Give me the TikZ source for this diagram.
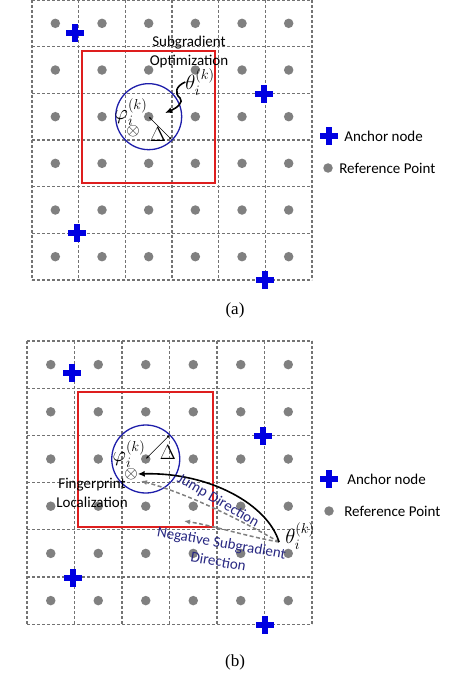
\documentclass[tikz,border=0pt]{standalone}
\usepackage{fontspec}
\setmainfont{Liberation Serif}
\newfontfamily\calibri{Carlito}
\usepackage{amsmath}
\usepackage{xcolor}
\usetikzlibrary{positioning}
\usetikzlibrary{calc}
\usetikzlibrary{arrows.meta}
\definecolor{anchorblue}{RGB}{0,0,225}
\definecolor{circblue}{RGB}{30,30,170}
\definecolor{boxred}{RGB}{222,30,30}
\definecolor{dirnavy}{RGB}{40,40,130}
\definecolor{dotgray}{RGB}{128,128,128}
\definecolor{linegray}{RGB}{115,115,115}
\tikzset{
	x=1pt, y=-1pt,
	every node/.style={outer sep=0pt},
	gridline/.style={linegray, dash pattern=on 3pt off 2pt, line width=1.3pt},
	refpoint/.style={circle, fill=dotgray, inner sep=0pt, minimum size=9.5pt},
	anchornode/.style={inner sep=0pt, minimum size=18pt,
		path picture={
			\fill[anchorblue] ($(path picture bounding box.center)+(-9pt,-3pt)$) rectangle ++(18pt,6pt);
			\fill[anchorblue] ($(path picture bounding box.center)+(-3pt,-9pt)$) rectangle ++(6pt,18pt);
		}},
	regionbox/.style={draw=boxred, line width=1.6pt},
	searchcirc/.style={circle, draw=circblue, line width=1.3pt, inner sep=0pt},
	lbl/.style={font=\fontsize{15}{19}\selectfont\calibri, align=center},
	dirlbl/.style={lbl, text=dirnavy},
	mathlbl/.style={font=\fontsize{20}{22}\selectfont, inner sep=0pt},
	otimeslbl/.style={font=\fontsize{19}{21}\selectfont, inner sep=0pt},
	radius/.style={{Latex[length=3pt]}-{Latex[length=3pt]}, line width=0.6pt},
	steparrow/.style={-{Latex[length=7pt,width=6pt]}, line width=1.6pt},
	gradarrow/.style={-{Latex[length=6pt,width=5pt]}, dotgray, dash pattern=on 4pt off 2.5pt, line width=1.5pt}
}

\begin{document}
\begin{tikzpicture}
	\useasboundingbox (0,0) rectangle (474,695);

	% Panel (a)
	\foreach \k in {0,...,6} {
		\draw[gridline] ({32+46.67*\k},0) -- ({32+46.67*\k},280);
		\draw[gridline] (32,{46.67*\k}) -- (312,{46.67*\k});
	}
	\foreach \i in {0,...,5}
		\foreach \j in {0,...,5}
			\node[refpoint] (a-\i-\j) at ({32+46.67*(\i+0.5)},{46.67*(\j+0.5)}) {};

	\draw[regionbox] (82,51) rectangle (215,183);
	\node[searchcirc, minimum size=66pt] (circA) at (a-2-2) {};

	\node[anchornode] (anc-a1) at (75,33) {};
	\node[anchornode] (anc-a2) at (264,94) {};
	\node[anchornode] (anc-a3) at (77,233) {};
	\node[anchornode] (anc-a4) at (265,280) {};

	\node[lbl] (subopt) at (189,52) {Subgradient\\Optimization};
	\node[mathlbl] (thA) at (200,82) {$\theta_i^{(k)}$};
	\node[mathlbl] (phiA) at (131,112) {$\varphi_i^{(k)}$};
	\node[otimeslbl] (otA) at (133,131) {$\otimes$};
	\node[mathlbl] (delA) at (158,134) {$\Delta$};
	\coordinate (tipA) at (165,113);

	\draw[steparrow] (thA.west) .. controls (176,86) and (174,93) .. (180,98)
		.. controls (184,102) and (177,108) .. (tipA);
	\draw[radius] (a-2-2.center) -- (circA.-45);

	% Legend (a)
	\node[anchornode] (leg-anc-a) at (329,136) {};
	\node[lbl, anchor=west] (leg-anc-a-t) at (341,136) {Anchor node};
	\node[refpoint] (leg-ref-a) at (328,168) {};
	\node[lbl, anchor=west] (leg-ref-a-t) at (336,168) {Reference Point};

	\node[font=\fontsize{17}{19}\selectfont] (capA) at (235,310) {(a)};

	% Panel (b)
	\foreach \k in {0,...,6} {
		\draw[gridline] ({27+47.5*\k},341) -- ({27+47.5*\k},624);
		\draw[gridline] (27,{341+47.2*\k}) -- (312,{341+47.2*\k});
	}
	\foreach \i in {0,...,5}
		\foreach \j in {0,...,5}
			\node[refpoint] (b-\i-\j) at ({27+47.5*(\i+0.5)},{341+47.2*(\j+0.5)}) {};

	\draw[regionbox] (78,392) rectangle (213,527);
	\node[searchcirc, minimum size=68pt] (circB) at (b-2-2) {};

	\node[anchornode] (anc-b1) at (72,373) {};
	\node[anchornode] (anc-b2) at (263,436) {};
	\node[anchornode] (anc-b3) at (73,578) {};
	\node[anchornode] (anc-b4) at (265,625) {};

	\node[mathlbl] (phiB) at (129,454) {$\varphi_i^{(k)}$};
	\node[otimeslbl] (otB) at (131,474) {$\otimes$};
	\node[mathlbl] (delB) at (168,452) {$\Delta$};
	\node[mathlbl] (thB) at (300,536) {$\theta_i^{(k)}$};
	\coordinate (startB) at (279,542);
	\coordinate (gradtipB) at (141,481);
	\coordinate (negtipB) at (184,521);

	\draw[radius] (b-2-2.center) -- (circB.45);
	\draw[gradarrow] (startB) .. controls (232,515) and (182,492) .. (gradtipB);
	\draw[gradarrow] (startB) .. controls (245,536) and (215,526) .. (negtipB);
	\draw[steparrow] (startB) .. controls (268,505) and (210,472) .. (otB.east);

	\node[lbl] (fploc) at (92,493) {Fingerprint\\Localization};
	\node[dirlbl, rotate=-30] (jumpdir) at (218,501) {Jump Direction};
	\node[dirlbl, rotate=-10] (negdir) at (220,552) {Negative Subgradient\\Direction};

	% Legend (b)
	\node[anchornode] (leg-anc-b) at (329,479) {};
	\node[lbl, anchor=west] (leg-anc-b-t) at (344,479) {Anchor node};
	\node[refpoint] (leg-ref-b) at (329,511) {};
	\node[lbl, anchor=west] (leg-ref-b-t) at (341,511) {Reference Point};

	\node[font=\fontsize{17}{19}\selectfont] (capB) at (235,662) {(b)};
\end{tikzpicture}
\end{document}
